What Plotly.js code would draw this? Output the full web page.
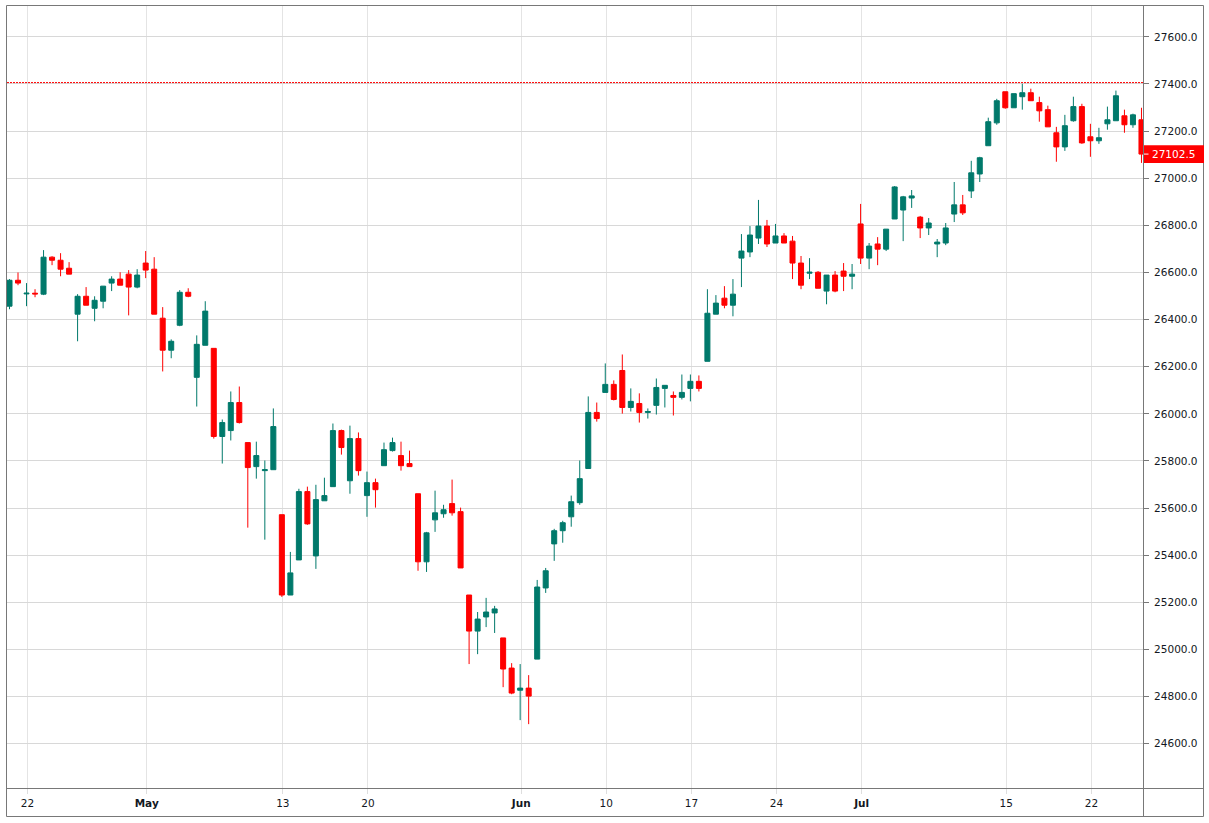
<!DOCTYPE html>
<html>
<head>
<meta charset="utf-8">
<script src="https://cdn.plot.ly/plotly-3.0.1.min.js"></script>
<style>html,body{margin:0;padding:0;background:#fff;overflow:hidden}</style>
</head>
<body>
<div id="chart" style="width:1209px;height:823px"></div>
<script>
var opens = [26457,26567,26509,26512,26508,26665,26652,26618,26423,26499,26448,26478,26555,26572,26593,26538,26640,26614,26406,26270,26376,26516,26155,26291,26278,25904,25929,26048,25878,25776,25759,25763,25572,25231,25380,25670,25397,25631,25691,25929,25716,25895,25653,25708,25780,25844,25823,25789,25661,25372,25550,25576,25619,25585,25231,25078,25138,25155,25049,24921,24827,24836,24959,25261,25448,25504,25563,25623,25768,26006,26091,26125,26184,26027,26044,26006,26036,26108,26078,26070,26108,26138,26223,26423,26491,26461,26661,26687,26746,26797,26725,26755,26733,26640,26597,26601,26521,26589,26606,26584,26806,26661,26721,26699,26827,26865,26916,26835,26789,26721,26725,26848,26887,26946,27018,27138,27235,27367,27299,27346,27363,27321,27291,27193,27133,27244,27304,27176,27159,27231,27244,27265,27227,27248];
var highs = [26572,26600,26555,26529,26695,26669,26682,26644,26508,26538,26499,26542,26584,26601,26610,26614,26691,26665,26453,26316,26525,26533,26333,26478,26278,25976,26095,26116,25878,25882,25802,26023,25572,25414,25682,25691,25699,25729,25959,25933,25950,25921,25755,25725,25878,25899,25882,25844,25661,25499,25674,25614,25721,25602,25231,25159,25219,25185,25049,24942,24938,24891,25295,25346,25512,25546,25653,25802,26074,26048,26214,26142,26252,26108,26087,26023,26150,26121,26095,26167,26167,26163,26529,26504,26542,26572,26763,26797,26908,26823,26806,26767,26755,26670,26661,26606,26589,26606,26640,26636,26891,26725,26750,26784,26967,26925,26950,26840,26831,26742,26810,26984,26929,27074,27091,27257,27337,27367,27359,27401,27380,27346,27308,27218,27269,27346,27316,27231,27214,27304,27372,27291,27274,27299];
var lows = [26444,26546,26457,26495,26504,26631,26584,26593,26308,26461,26393,26448,26521,26546,26418,26533,26576,26423,26180,26236,26372,26495,26031,26291,25895,25789,25887,25959,25517,25725,25466,25763,25223,25231,25380,25529,25342,25631,25691,25827,25661,25738,25563,25602,25780,25840,25759,25776,25334,25329,25499,25559,25568,25346,24938,24980,25095,25070,24840,24810,24700,24683,24959,25240,25376,25453,25521,25614,25768,25967,26091,26057,26001,26010,25963,25980,25997,26027,25993,26061,26053,26095,26223,26423,26448,26414,26538,26665,26721,26708,26725,26725,26572,26529,26572,26533,26465,26516,26521,26529,26636,26614,26631,26691,26827,26733,26874,26746,26759,26665,26716,26814,26844,26916,26984,27138,27227,27295,27299,27291,27329,27240,27218,27070,27116,27240,27146,27091,27146,27206,27244,27193,27214,27065];
var closes = [26567,26555,26512,26509,26665,26652,26614,26593,26499,26461,26482,26542,26572,26546,26538,26589,26610,26423,26270,26308,26516,26499,26295,26436,25904,25963,26048,25963,25772,25823,25763,25946,25231,25325,25670,25533,25636,25653,25929,25857,25895,25759,25708,25678,25848,25878,25780,25776,25372,25495,25580,25593,25580,25346,25078,25129,25159,25172,24917,24815,24836,24802,25265,25334,25504,25538,25627,25725,26006,25980,26125,26061,26027,26053,26006,26010,26112,26121,26070,26091,26138,26108,26427,26470,26461,26508,26691,26759,26797,26721,26755,26725,26640,26546,26601,26533,26589,26521,26584,26593,26661,26712,26699,26784,26963,26921,26925,26789,26810,26729,26789,26887,26853,27023,27087,27240,27329,27299,27359,27363,27329,27286,27218,27133,27223,27304,27150,27159,27172,27248,27350,27227,27269,27102.5];
var tickBars = [2,16,32,42,60,70,80,90,100,117,127];
var tickLabels = ["22","<b>May</b>","13","20","<b>Jun</b>","10","17","24","<b>Jul</b>","15","22"];
var lastPrice = 27102.5;
var resistance = 27406;
var barIndex = opens.map(function(_, i){ return i; });

var trace = {
  type: "candlestick",
  x: barIndex, open: opens, high: highs, low: lows, close: closes,
  increasing: {line: {color: "#00796b", width: 1}, fillcolor: "#00796b"},
  decreasing: {line: {color: "#ff0000", width: 1}, fillcolor: "#ff0000"},
  whiskerwidth: 0,
  hoverinfo: "skip",
  showlegend: false
};
var font = "'DejaVu Sans', sans-serif";
var gray = "#787878";
var W = 1136, H = 782;
var layout = {
  width: 1209, height: 823,
  margin: {l: 7, r: 66, t: 6, b: 35, pad: 0},
  paper_bgcolor: "#ffffff", plot_bgcolor: "#ffffff",
  showlegend: false,
  boxgap: 0.16,
  font: {family: font, size: 10.5, color: "#131722"},
  xaxis: {
    type: "linear", range: [-0.294, 133.18],
    tickmode: "array",
    tickvals: tickBars.map(function(b){ return b + 0.12; }),
    ticktext: tickLabels,
    ticks: "outside", ticklen: 5, tickwidth: 1, tickcolor: "#dedede",
    showgrid: true, gridcolor: "#e4e4e4", gridwidth: 1,
    zeroline: false, showline: false,
    rangeslider: {visible: false},
    tickfont: {family: font, size: 10.5, color: "#131722"},
    fixedrange: true
  },
  yaxis: {
    side: "right", range: [24412, 27731],
    tick0: 0, dtick: 200, tickformat: ".1f",
    ticks: "outside", ticklen: 5, tickwidth: 1, tickcolor: gray,
    ticklabelstandoff: 3,
    showgrid: true, gridcolor: "#d8d8d8", gridwidth: 1,
    zeroline: false, showline: false,
    tickfont: {family: font, size: 10.5, color: "#131722"},
    fixedrange: true
  },
  shapes: [
    {type: "line", xref: "paper", yref: "y", x0: 0, x1: 1, y0: resistance, y1: resistance,
     line: {color: "#ff0000", width: 1, dash: "2px,1px"}},
    {type: "rect", xref: "paper", yref: "paper", x0: -0.5/W, x1: 1196.5/W, y0: -28.5/H, y1: 1 + 0.5/H,
     line: {color: gray, width: 1}, fillcolor: "rgba(0,0,0,0)"},
    {type: "line", xref: "paper", yref: "paper", x0: -0.5/W, x1: 1196.5/W, y0: -0.5/H, y1: -0.5/H,
     line: {color: gray, width: 1}},
    {type: "line", xref: "paper", yref: "paper", x0: 1136.5/W, x1: 1136.5/W, y0: -28.5/H, y1: 1 + 0.5/H,
     line: {color: gray, width: 1}},
    {type: "rect", xref: "paper", yref: "y", x0: 1137/W, x1: 1197/W, y0: lastPrice - 37.6, y1: lastPrice + 37.6,
     line: {width: 0}, fillcolor: "#ff0000"},
    {type: "line", xref: "paper", yref: "y", x0: 1137/W, x1: 1141.5/W, y0: lastPrice, y1: lastPrice,
     line: {color: "#ffffff", width: 1}}
  ],
  annotations: [
    {xref: "paper", yref: "y", x: 1166/W, y: lastPrice, xanchor: "center", yanchor: "middle",
     text: lastPrice.toFixed(1), showarrow: false,
     font: {family: font, size: 10.5, color: "#ffffff"}}
  ]
};
Plotly.newPlot("chart", [trace], layout, {displayModeBar: false, staticPlot: true});
</script>
</body>
</html>
